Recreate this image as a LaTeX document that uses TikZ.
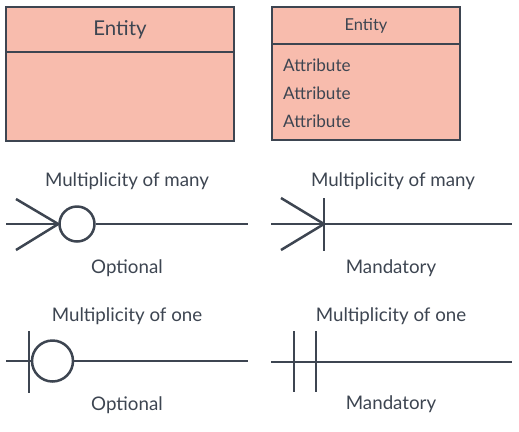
\documentclass[tikz,border=0pt]{standalone}
\usepackage{fontspec}
\setmainfont{Lato}
\definecolor{ink}{HTML}{3D4551}
\definecolor{salmon}{HTML}{F8BCAD}
\begin{document}
\begin{tikzpicture}[
    x=1bp, y=-1bp,
    % Style for the salmon entity boxes
    entity box/.style={draw=ink, fill=salmon, line width=2.8bp},
    % Style for relation lines and tick marks
    rel/.style={draw=ink, line width=2.5bp},
    % Style for the open circle of an optional end
    ring/.style={circle, draw=ink, line width=2.5bp, inner sep=0pt},
    % Style for the captions
    caption/.style={text=ink, font=\fontsize{18.8}{22}\selectfont, inner sep=0pt}
]
    \useasboundingbox (0,0) rectangle (519,431);

    % --- 1. Entity Boxes ---
    \draw[entity box] (6,7) rectangle (234,141);
    \draw[rel, line width=2.8bp] (6,52) -- (234,52);
    \node[text=ink, font=\fontsize{20.5}{24}\selectfont] (ent) at (120,30) {Entity};

    \draw[entity box] (272,7) rectangle (460,140);
    \draw[rel, line width=2.8bp] (272,44) -- (460,44);
    \node[text=ink, font=\fontsize{16.5}{19}\selectfont] (entb) at (366,26) {Entity};
    \foreach \y/\n in {65/1, 93/2, 121/3}
        \node[text=ink, font=\fontsize{17.2}{20}\selectfont, anchor=west, inner sep=0pt] (attr\n) at (283,\y) {Attribute};

    % --- 2. Multiplicity of many, optional ---
    \coordinate (mol) at (6,224);
    \coordinate (mor) at (248,224);
    \coordinate (moa) at (16,199);
    \coordinate (mob) at (16,250);
    \node[ring, minimum size=35bp] (moc) at (77,224) {};
    \draw[rel] (mol) -- (moc.west);
    \draw[rel] (moa) -- (moc.west) -- (mob);
    \draw[rel] (moc.east) -- (mor);
    \node[caption] (motop) at (127,181) {Multiplicity of many};
    \node[caption] (mobot) at (127,268) {Optional};

    % --- 3. Multiplicity of many, mandatory ---
    \coordinate (mml) at (271,224);
    \coordinate (mmr) at (512,224);
    \coordinate (mmx) at (324,224);
    \coordinate (mma) at (281,198);
    \coordinate (mmb) at (281,250);
    \coordinate (mmt) at (324,198);
    \coordinate (mmd) at (324,251);
    \draw[rel] (mml) -- (mmr);
    \draw[rel] (mmt) -- (mmd);
    \draw[rel] (mma) -- (mmx) -- (mmb);
    \node[caption] (mmtop) at (393,181) {Multiplicity of many};
    \node[caption] (mmbot) at (391,268) {Mandatory};

    % --- 4. Multiplicity of one, optional ---
    \coordinate (ool) at (6,361);
    \coordinate (oor) at (248,361);
    \coordinate (oot) at (29,331);
    \coordinate (ood) at (29,393);
    \node[ring, minimum size=41bp] (ooc) at (52.5,361) {};
    \draw[rel] (ool) -- (ooc.west);
    \draw[rel] (ooc.east) -- (oor);
    \draw[rel] (oot) -- (ood);
    \node[caption] (ootop) at (127,316) {Multiplicity of one};
    \node[caption] (oobot) at (127,405) {Optional};

    % --- 5. Multiplicity of one, mandatory ---
    \coordinate (oml) at (271,362);
    \coordinate (omr) at (512,362);
    \draw[rel] (oml) -- (omr);
    \foreach \x/\n in {294/1, 316/2}{
        \coordinate (omt\n) at (\x,331);
        \coordinate (omd\n) at (\x,392);
        \draw[rel] (omt\n) -- (omd\n);
    }
    \node[caption] (omtop) at (391,316) {Multiplicity of one};
    \node[caption] (ombot) at (391,404) {Mandatory};

\end{tikzpicture}
\end{document}
